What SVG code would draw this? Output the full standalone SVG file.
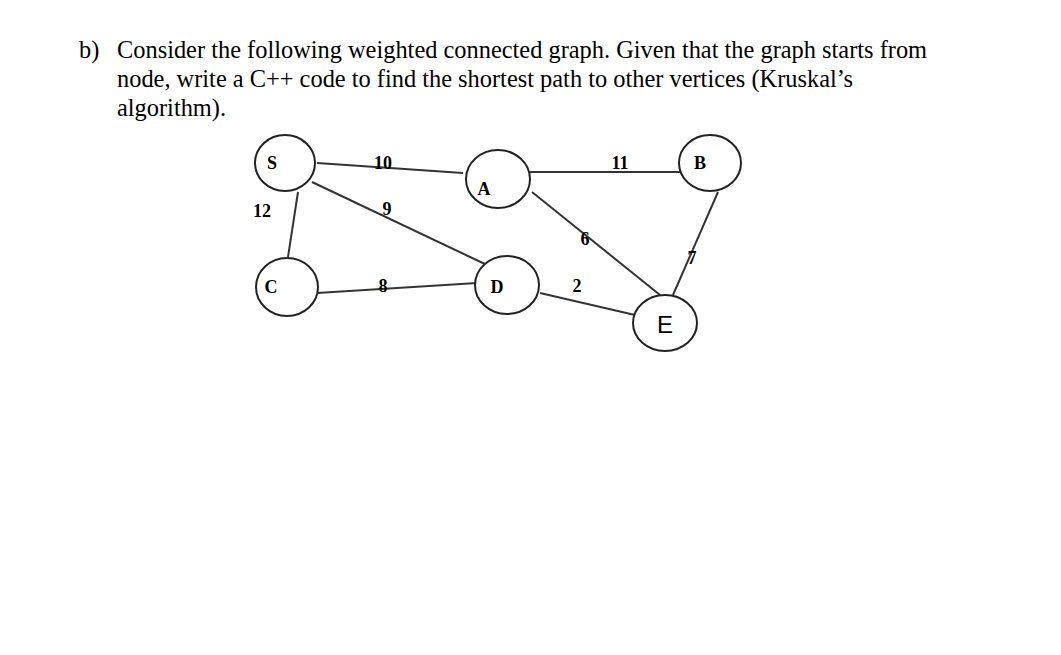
<svg xmlns="http://www.w3.org/2000/svg" width="1061" height="655" viewBox="0 0 1061 655">
<style>
.t{font-family:"Liberation Serif",serif;font-size:24.4px;fill:#000}
.n{fill:#fff;stroke:#222;stroke-width:2}
.l{font-family:"Liberation Serif",serif;font-size:18px;font-weight:bold;fill:#000}
.e{stroke:#333;stroke-width:2;fill:none}
</style>
<rect width="1061" height="655" fill="#fff"/>
<text class="t" x="79" y="58">b)</text>
<text class="t" x="117" y="58">Consider the following weighted connected graph. Given that the graph starts from</text>
<text class="t" x="117" y="87">node, write a C++ code to find the shortest path to other vertices (Kruskal’s</text>
<text class="t" x="117" y="116">algorithm).</text>
<g id="edges">
<line class="e" x1="317" y1="163" x2="463" y2="173"/>
<line class="e" x1="530" y1="172" x2="680" y2="172"/>
<line class="e" x1="312" y1="182" x2="487" y2="265"/>
<line class="e" x1="298" y1="192" x2="288" y2="257"/>
<line class="e" x1="317" y1="293" x2="477" y2="283"/>
<line class="e" x1="532" y1="192" x2="660" y2="295"/>
<line class="e" x1="718" y1="192" x2="673" y2="295"/>
<line class="e" x1="540" y1="293" x2="635" y2="315"/>
<text class="l" x="383" y="169" text-anchor="middle">10</text>
<text class="l" x="620" y="169" text-anchor="middle">11</text>
<text class="l" x="262" y="217" text-anchor="middle">12</text>
<text class="l" x="387" y="215" text-anchor="middle">9</text>
<text class="l" x="585" y="245" text-anchor="middle">6</text>
<text class="l" x="692" y="264" text-anchor="middle">7</text>
<text class="l" x="383" y="292" text-anchor="middle">8</text>
<text class="l" x="577" y="292" text-anchor="middle">2</text>
</g>
<g id="S"><ellipse class="n" cx="285" cy="163" rx="30" ry="28"/><text class="l" x="272" y="169" text-anchor="middle">S</text></g>
<g id="A"><ellipse class="n" cx="498" cy="179" rx="32" ry="29"/><text class="l" x="484" y="195" text-anchor="middle">A</text></g>
<g id="B"><ellipse class="n" cx="710" cy="163" rx="31" ry="28"/><text class="l" x="700" y="169" text-anchor="middle">B</text></g>
<g id="C"><ellipse class="n" cx="287" cy="287" rx="31" ry="29"/><text class="l" x="271" y="293" text-anchor="middle">C</text></g>
<g id="D"><ellipse class="n" cx="507" cy="285" rx="32" ry="29"/><text class="l" x="497" y="293" text-anchor="middle">D</text></g>
<g id="E"><ellipse class="n" cx="665" cy="323" rx="32" ry="28"/><text x="665" y="333" text-anchor="middle" font-family="Liberation Sans,sans-serif" font-size="24" fill="#000">E</text></g>
</svg>
